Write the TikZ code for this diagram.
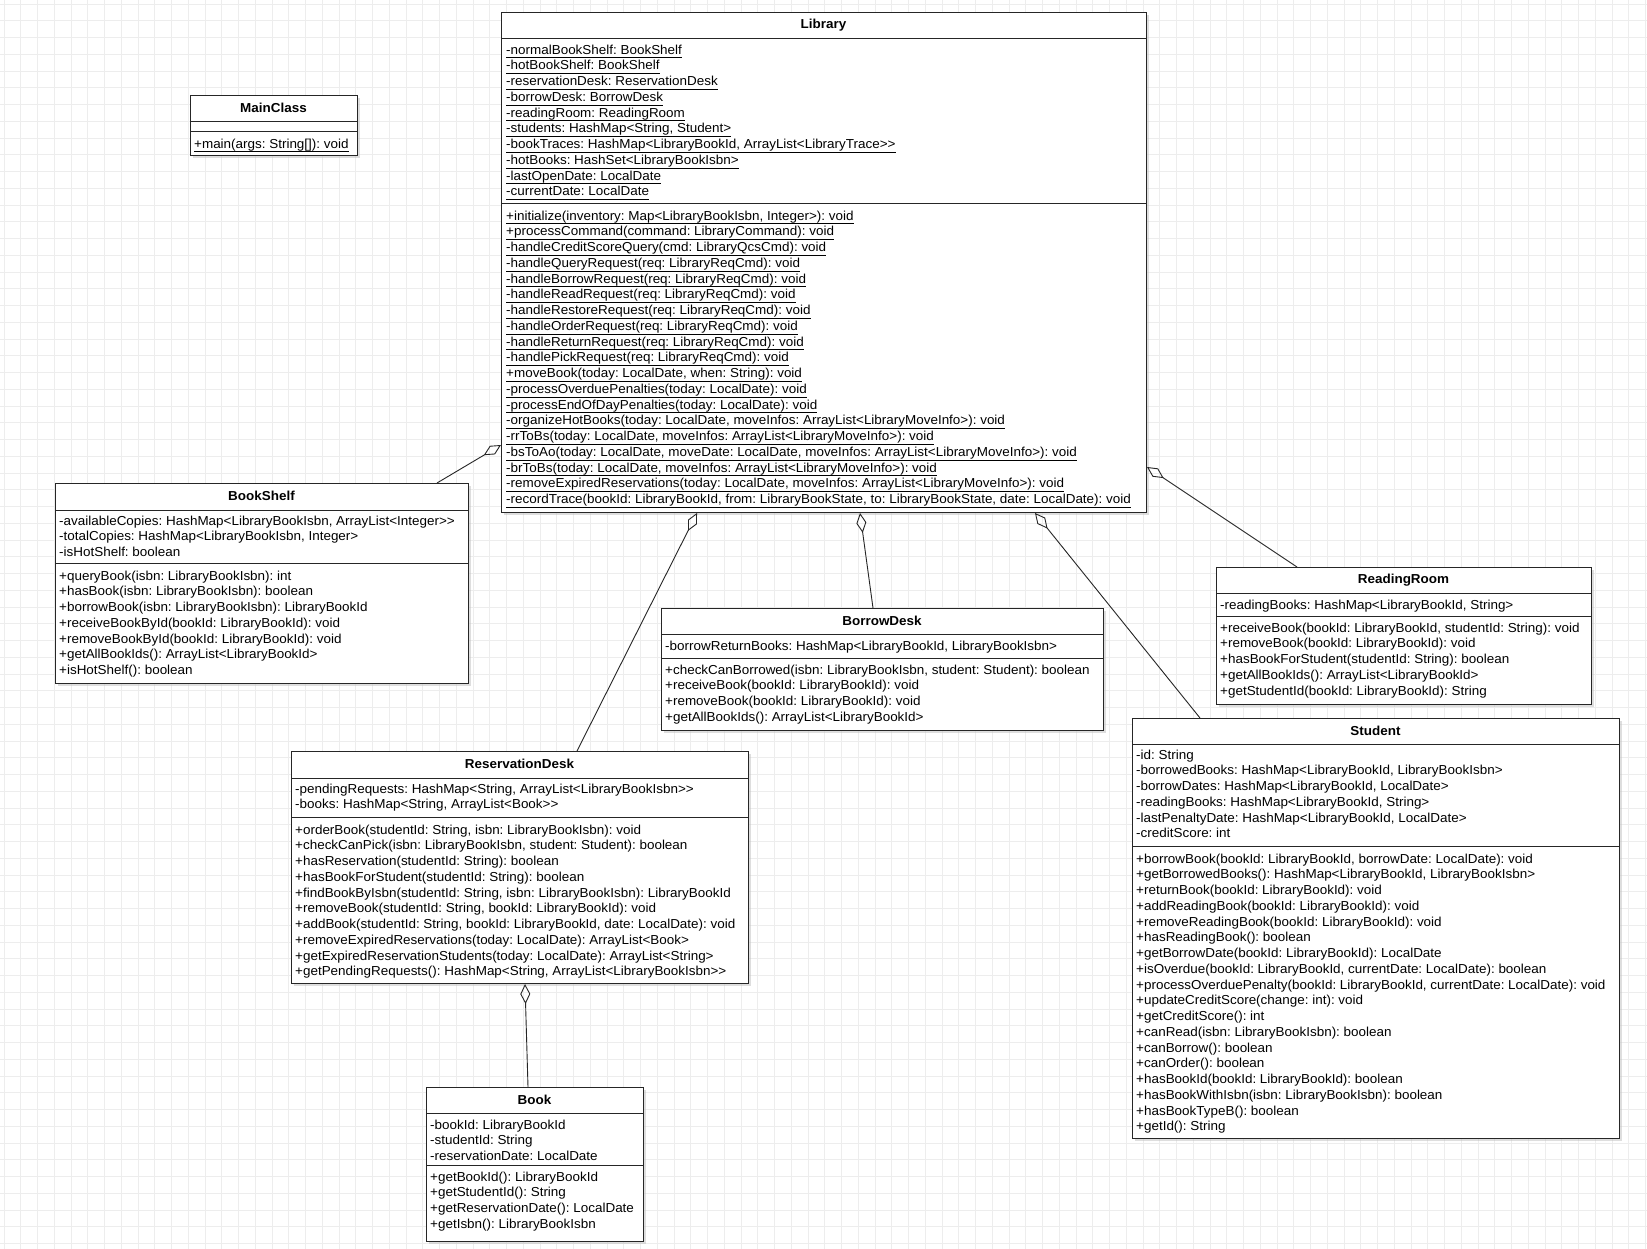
\documentclass[tikz,border=0pt]{standalone}
\usepackage{fontspec}
\setmainfont[FakeStretch=1.035]{Liberation Sans}
\usetikzlibrary{arrows.meta,calc}
\newcommand{\ul}[1]{\underline{\raisebox{0pt}[\height][2pt]{#1}}}
\begin{document}
\begin{tikzpicture}[x=1pt,y=-1pt,
  cls/.style={draw=black!85,line width=1pt,fill=white,anchor=north west,inner sep=0pt},
  txt/.style={anchor=north west,inner sep=0pt,yshift=-2.5pt,align=left,font=\frenchspacing\fontsize{13}{15.75}\selectfont},
  ttl/.style={inner sep=0pt,font=\bfseries\fontsize{13}{14}\selectfont},
  sep/.style={draw=black!85,line width=0.8pt},
  agg/.style={draw=black!85,line width=0.9pt,{Diamond[open,length=20pt,width=10pt]}-}]
\useasboundingbox (0,0) rectangle (1647,1249);
\fill[white] (0,0) rectangle (1647,1249);
\foreach \i in {0,...,98}{\draw[black!7,line width=0.8pt] ({4+\i*16.75},0) -- ({4+\i*16.75},1249);}
\foreach \i in {0,...,75}{\draw[black!7,line width=0.8pt] (0,{4+\i*16.75}) -- (1647,{4+\i*16.75});}

\newcommand{\umlbox}[8]{%
  \fill[black!25,opacity=0.5] (#2+3,#3+3) rectangle (#4+3,#5+3);
  \node[cls,minimum width={#4-#2},minimum height={#5-#3}] (#1) at (#2,#3) {};
  \node[ttl] at ({(#2+#4)/2},{#3+13}) {#6};
  \draw[sep] (#2,#7) -- (#4,#7);
  \draw[sep] (#2,#8) -- (#4,#8);
}

\umlbox{main}{190}{95}{357}{155}{MainClass}{121}{131}
\node[txt] at (194,136) {\ul{+main(args: String[]): void}};

\umlbox{lib}{501}{12}{1146}{512}{Library}{38}{203}
\node[txt] at (506,42) {\ul{-normalBookShelf: BookShelf}\\
\ul{-hotBookShelf: BookShelf}\\
\ul{-reservationDesk: ReservationDesk}\\
\ul{-borrowDesk: BorrowDesk}\\
\ul{-readingRoom: ReadingRoom}\\
\ul{-students: HashMap<String, Student>}\\
\ul{-bookTraces: HashMap<LibraryBookId, ArrayList<LibraryTrace>{}>}\\
\ul{-hotBooks: HashSet<LibraryBookIsbn>}\\
\ul{-lastOpenDate: LocalDate}\\
\ul{-currentDate: LocalDate}};
\node[txt] at (506,208) {\ul{+initialize(inventory: Map<LibraryBookIsbn, Integer>): void}\\
\ul{+processCommand(command: LibraryCommand): void}\\
\ul{-handleCreditScoreQuery(cmd: LibraryQcsCmd): void}\\
\ul{-handleQueryRequest(req: LibraryReqCmd): void}\\
\ul{-handleBorrowRequest(req: LibraryReqCmd): void}\\
\ul{-handleReadRequest(req: LibraryReqCmd): void}\\
\ul{-handleRestoreRequest(req: LibraryReqCmd): void}\\
\ul{-handleOrderRequest(req: LibraryReqCmd): void}\\
\ul{-handleReturnRequest(req: LibraryReqCmd): void}\\
\ul{-handlePickRequest(req: LibraryReqCmd): void}\\
\ul{+moveBook(today: LocalDate, when: String): void}\\
\ul{-processOverduePenalties(today: LocalDate): void}\\
\ul{-processEndOfDayPenalties(today: LocalDate): void}\\
\ul{-organizeHotBooks(today: LocalDate, moveInfos: ArrayList<LibraryMoveInfo>): void}\\
\ul{-rrToBs(today: LocalDate, moveInfos: ArrayList<LibraryMoveInfo>): void}\\
\ul{-bsToAo(today: LocalDate, moveDate: LocalDate, moveInfos: ArrayList<LibraryMoveInfo>): void}\\
\ul{-brToBs(today: LocalDate, moveInfos: ArrayList<LibraryMoveInfo>): void}\\
\ul{-removeExpiredReservations(today: LocalDate, moveInfos: ArrayList<LibraryMoveInfo>): void}\\
\ul{-recordTrace(bookId: LibraryBookId, from: LibraryBookState, to: LibraryBookState, date: LocalDate): void}};

\umlbox{shelf}{55}{483}{468}{683}{BookShelf}{510}{563}
\node[txt] at (59,513) {-availableCopies: HashMap<LibraryBookIsbn, ArrayList<Integer>{}>\\
-totalCopies: HashMap<LibraryBookIsbn, Integer>\\
-isHotShelf: boolean};
\node[txt] at (59,568) {+queryBook(isbn: LibraryBookIsbn): int\\
+hasBook(isbn: LibraryBookIsbn): boolean\\
+borrowBook(isbn: LibraryBookIsbn): LibraryBookId\\
+receiveBookById(bookId: LibraryBookId): void\\
+removeBookById(bookId: LibraryBookId): void\\
+getAllBookIds(): ArrayList<LibraryBookId>\\
+isHotShelf(): boolean};

\umlbox{room}{1216}{567}{1591}{704}{ReadingRoom}{593}{616}
\node[txt] at (1220,597) {-readingBooks: HashMap<LibraryBookId, String>};
\node[txt] at (1220,620) {+receiveBook(bookId: LibraryBookId, studentId: String): void\\
+removeBook(bookId: LibraryBookId): void\\
+hasBookForStudent(studentId: String): boolean\\
+getAllBookIds(): ArrayList<LibraryBookId>\\
+getStudentId(bookId: LibraryBookId): String};

\umlbox{borrow}{661}{608}{1103}{730}{BorrowDesk}{634}{658}
\node[txt] at (665,638) {-borrowReturnBooks: HashMap<LibraryBookId, LibraryBookIsbn>};
\node[txt] at (665,662) {+checkCanBorrowed(isbn: LibraryBookIsbn, student: Student): boolean\\
+receiveBook(bookId: LibraryBookId): void\\
+removeBook(bookId: LibraryBookId): void\\
+getAllBookIds(): ArrayList<LibraryBookId>};

\umlbox{stu}{1132}{718}{1619}{1138}{Student}{744}{846}
\node[txt] at (1136,747) {-id: String\\
-borrowedBooks: HashMap<LibraryBookId, LibraryBookIsbn>\\
-borrowDates: HashMap<LibraryBookId, LocalDate>\\
-readingBooks: HashMap<LibraryBookId, String>\\
-lastPenaltyDate: HashMap<LibraryBookId, LocalDate>\\
-creditScore: int};
\node[txt] at (1136,851) {+borrowBook(bookId: LibraryBookId, borrowDate: LocalDate): void\\
+getBorrowedBooks(): HashMap<LibraryBookId, LibraryBookIsbn>\\
+returnBook(bookId: LibraryBookId): void\\
+addReadingBook(bookId: LibraryBookId): void\\
+removeReadingBook(bookId: LibraryBookId): void\\
+hasReadingBook(): boolean\\
+getBorrowDate(bookId: LibraryBookId): LocalDate\\
+isOverdue(bookId: LibraryBookId, currentDate: LocalDate): boolean\\
+processOverduePenalty(bookId: LibraryBookId, currentDate: LocalDate): void\\
+updateCreditScore(change: int): void\\
+getCreditScore(): int\\
+canRead(isbn: LibraryBookIsbn): boolean\\
+canBorrow(): boolean\\
+canOrder(): boolean\\
+hasBookId(bookId: LibraryBookId): boolean\\
+hasBookWithIsbn(isbn: LibraryBookIsbn): boolean\\
+hasBookTypeB(): boolean\\
+getId(): String};

\umlbox{res}{291}{751}{748}{983}{ReservationDesk}{778}{817}
\node[txt] at (295,781) {-pendingRequests: HashMap<String, ArrayList<LibraryBookIsbn>{}>\\
-books: HashMap<String, ArrayList<Book>{}>};
\node[txt] at (295,822) {+orderBook(studentId: String, isbn: LibraryBookIsbn): void\\
+checkCanPick(isbn: LibraryBookIsbn, student: Student): boolean\\
+hasReservation(studentId: String): boolean\\
+hasBookForStudent(studentId: String): boolean\\
+findBookByIsbn(studentId: String, isbn: LibraryBookIsbn): LibraryBookId\\
+removeBook(studentId: String, bookId: LibraryBookId): void\\
+addBook(studentId: String, bookId: LibraryBookId, date: LocalDate): void\\
+removeExpiredReservations(today: LocalDate): ArrayList<Book>\\
+getExpiredReservationStudents(today: LocalDate): ArrayList<String>\\
+getPendingRequests(): HashMap<String, ArrayList<LibraryBookIsbn>{}>};

\umlbox{book}{426}{1087}{643}{1241}{Book}{1113}{1165}
\node[txt] at (430,1117) {-bookId: LibraryBookId\\
-studentId: String\\
-reservationDate: LocalDate};
\node[txt] at (430,1169) {+getBookId(): LibraryBookId\\
+getStudentId(): String\\
+getReservationDate(): LocalDate\\
+getIsbn(): LibraryBookIsbn};

\coordinate (l1) at ($(lib.north west)+(0,433)$);
\coordinate (l2) at ($(lib.south west)+(196,0)$);
\coordinate (l3) at ($(lib.south west)+(359,0)$);
\coordinate (l4) at ($(lib.south west)+(534,0)$);
\coordinate (l5) at ($(lib.north east)+(0,455)$);
\draw[agg] (l1) -- ($(shelf.north west)+(382,0)$);
\draw[agg] (l2) -- ($(res.north west)+(286,0)$);
\draw[agg] (l3) -- ($(borrow.north west)+(212,0)$);
\draw[agg] (l4) -- ($(stu.north west)+(68,0)$);
\draw[agg] (l5) -- ($(room.north west)+(81,0)$);
\draw[agg] ($(res.south west)+(234,0)$) -- ($(book.north west)+(102,0)$);
\end{tikzpicture}
\end{document}
